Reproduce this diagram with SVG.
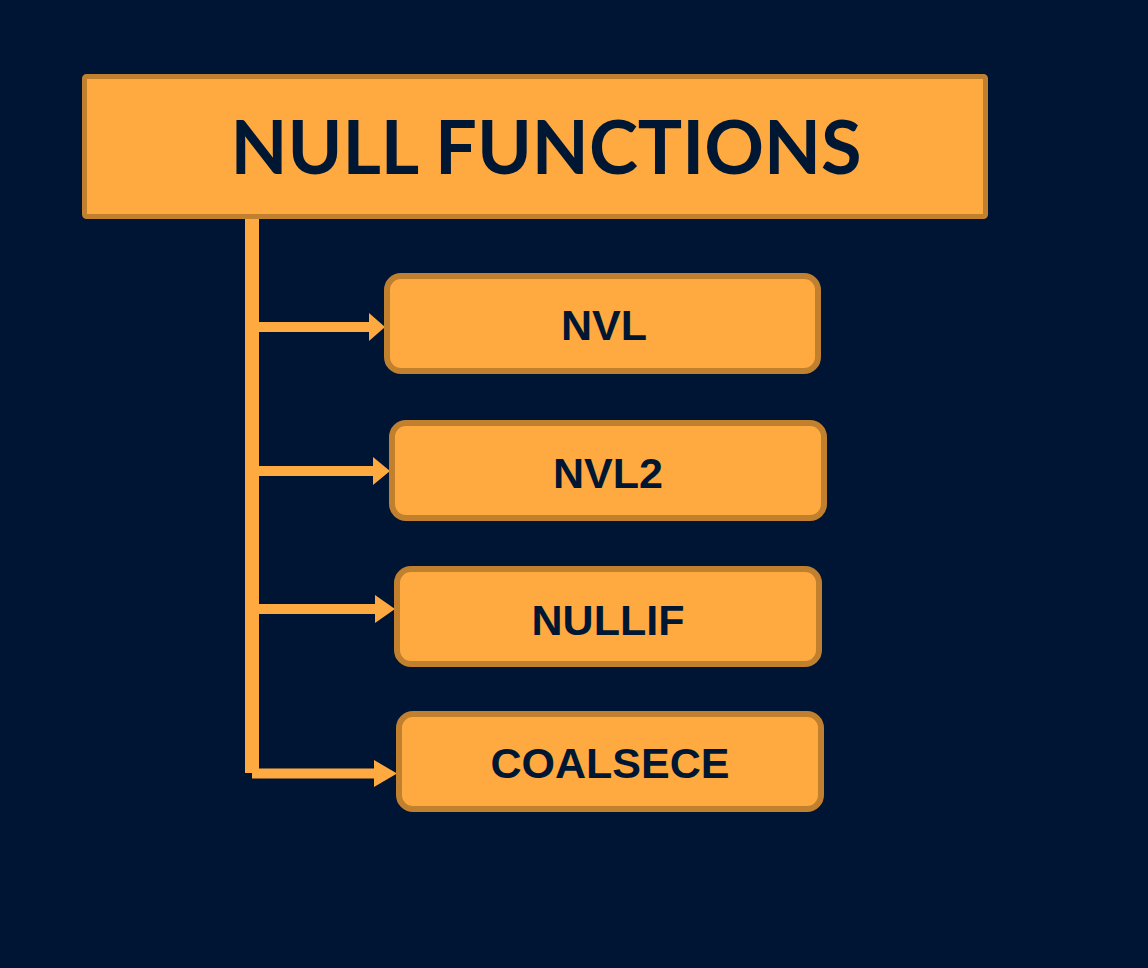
<svg xmlns="http://www.w3.org/2000/svg" width="1148" height="968" viewBox="0 0 1148 968">
<defs>
<style>
.node rect{fill:#FFAA40;stroke:#C0802E;stroke-width:6}
.node text{font-family:"Liberation Sans",Arial,sans-serif;font-weight:bold;font-size:43px;fill:#001733;text-anchor:middle}
.conn line{stroke:#FFAA40;stroke-width:10}
.conn polygon{fill:#FFAA40}
</style>
</defs>
<rect x="0" y="0" width="1148" height="968" fill="#001533"/>
<g id="title">
<rect x="84.5" y="76.5" width="901" height="140" rx="2" fill="#FFAA40" stroke="#C0802E" stroke-width="5"/>
<text x="546" y="174" font-family="Lato,'Open Sans',sans-serif" font-weight="bold" font-size="74" fill="#001733" text-anchor="middle">NULL FUNCTIONS</text>
</g>
<g id="connectors" class="conn">
<line x1="252" y1="219" x2="252" y2="773" style="stroke-width:14"/>
<line x1="259" y1="327" x2="372" y2="327"/>
<polygon points="369,313 385,327 369,341"/>
<line x1="259" y1="471" x2="376" y2="471"/>
<polygon points="373,457 390,471 373,485"/>
<line x1="259" y1="609" x2="378" y2="609"/>
<polygon points="375,595 395,609 375,623"/>
<line x1="252" y1="773.5" x2="378" y2="773.5"/>
<polygon points="374,760 397,773.5 374,787"/>
</g>
<g id="nvl" class="node">
<rect x="387" y="276" width="431" height="95" rx="14"/>
<text x="604" y="340">NVL</text>
</g>
<g id="nvl2" class="node">
<rect x="392" y="423" width="432" height="95" rx="14"/>
<text x="608" y="488">NVL2</text>
</g>
<g id="nullif" class="node">
<rect x="397" y="569" width="422" height="95" rx="14"/>
<text x="608" y="635">NULLIF</text>
</g>
<g id="coalsece" class="node">
<rect x="399" y="714" width="422" height="95" rx="14"/>
<text x="610" y="778">COALSECE</text>
</g>
</svg>
